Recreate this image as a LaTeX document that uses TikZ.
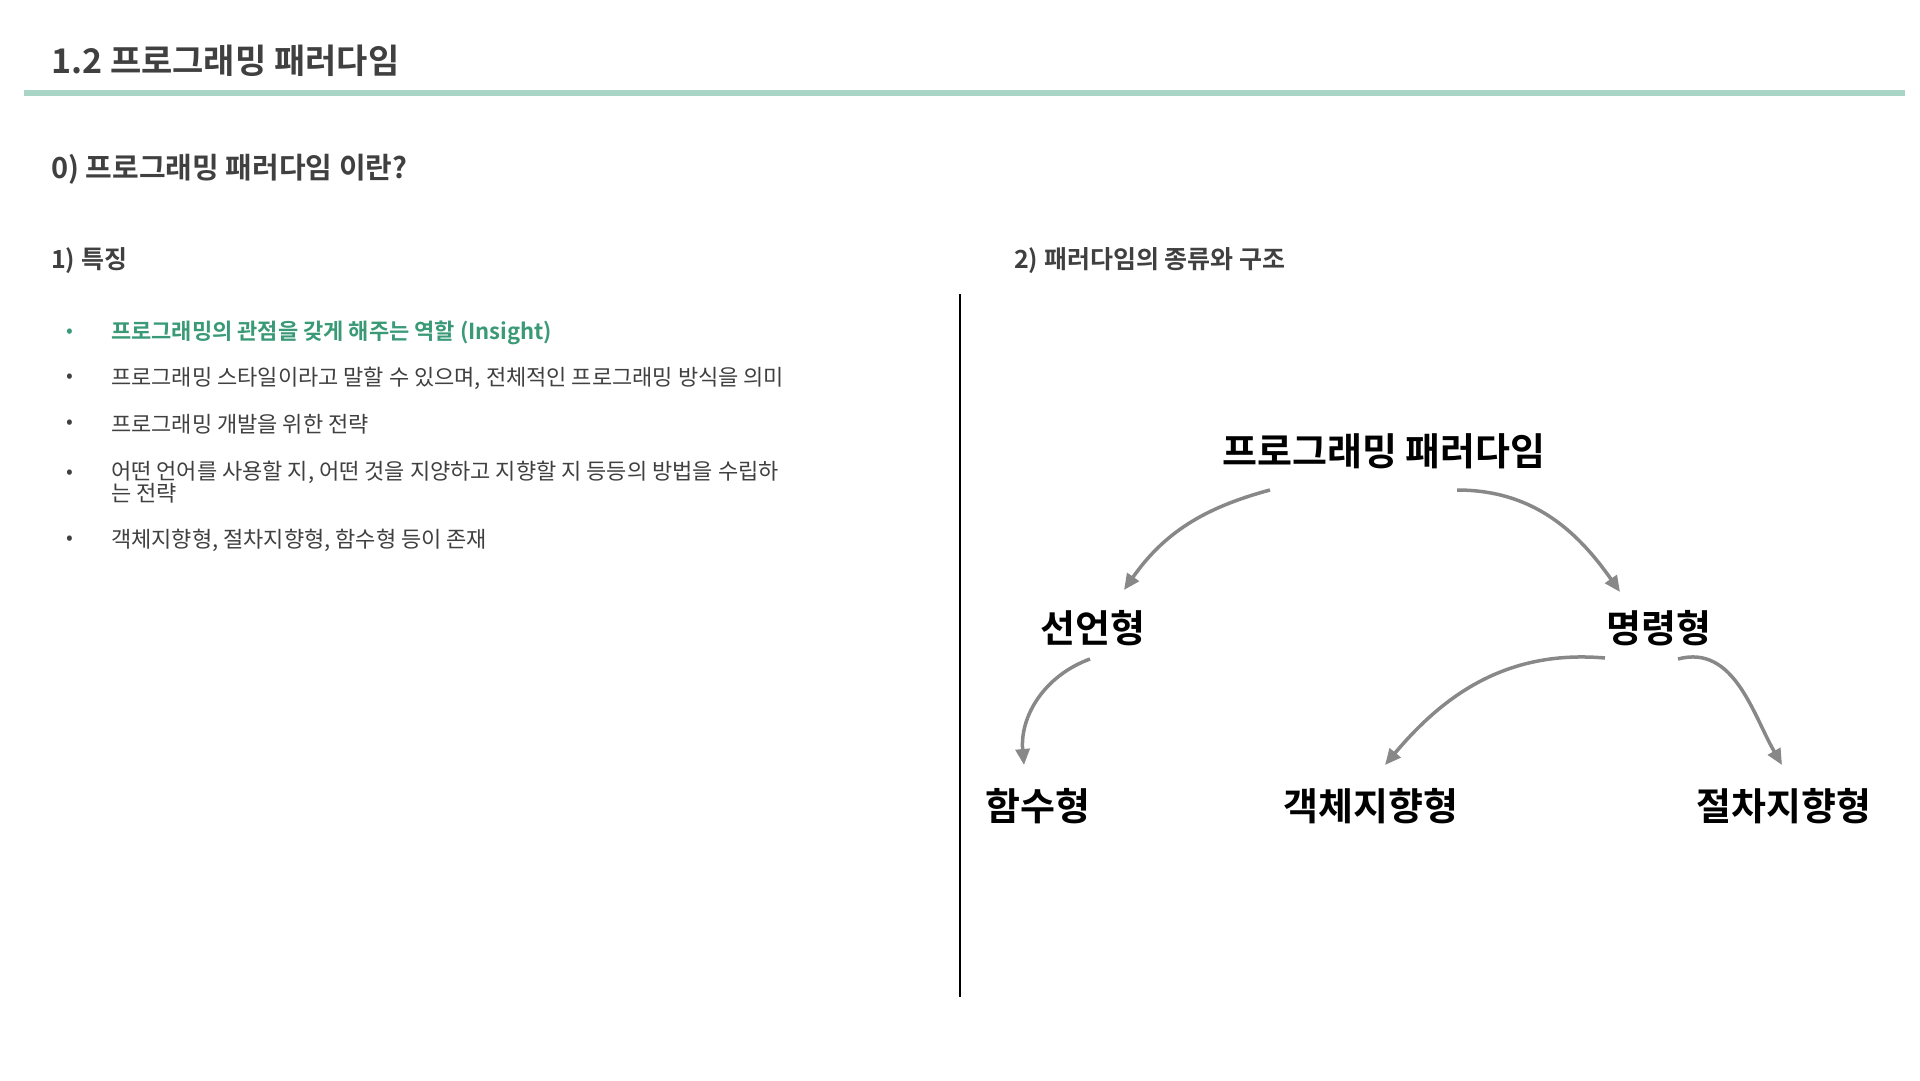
\documentclass[tikz,border=0pt]{standalone}
\usepackage{fontspec}
\setmainfont{Noto Sans CJK KR}
\newfontfamily\kr{Noto Sans CJK KR}
\newfontfamily\krb{Noto Sans CJK KR Bold}
\usetikzlibrary{arrows.meta}
\definecolor{txt}{HTML}{404040}
\definecolor{grn}{HTML}{3A9A78}
\definecolor{rule}{HTML}{A8D5C5}
\definecolor{arr}{HTML}{888888}
\begin{document}
\begin{tikzpicture}[x=1pt,y=-1pt,
  every node/.style={inner sep=0pt,text=txt},
  bul/.style={anchor=west,font=\kr\fontsize{22}{24}\selectfont,align=left},
  dg/.style={font=\krb\fontsize{38}{40}\selectfont,text=black},
  ar/.style={draw=arr,line width=3.5pt,-{Triangle[length=16pt,width=14pt]}}]
\useasboundingbox[fill=white] (0,0) rectangle (1920,1080);
\node[anchor=west,font=\krb\fontsize{34}{36}\selectfont] (title) at (51,61) {1.2 프로그래밍 패러다임};
\draw[rule,line width=6pt] (24,93) coordinate (r1) -- (1905,93) coordinate (r2);
\node[anchor=west,font=\krb\fontsize{29}{31}\selectfont] (h0) at (51,169) {0) 프로그래밍 패러다임 이란?};
\node[anchor=west,font=\krb\fontsize{25}{27}\selectfont] (h1) at (51,261) {1) 특징};
\node[anchor=west,font=\krb\fontsize{25}{27}\selectfont] (h2) at (1014,261) {2) 패러다임의 종류와 구조};
\draw[black,line width=1.2pt] (960,294) coordinate (v1) -- (960,997) coordinate (v2);
\foreach \y in {378,424,474,540} \node[text=txt,font=\fontsize{20}{20}\selectfont] at (70,\y) {•};
\node[text=grn,font=\fontsize{20}{20}\selectfont] (b0) at (70,333) {•};
\node[bul,text=grn,font=\krb\fontsize{22}{24}\selectfont] (t1) at (111,333) {프로그래밍의 관점을 갖게 해주는 역할 (Insight)};
\node[bul] (t2) at (111,378) {프로그래밍 스타일이라고 말할 수 있으며, 전체적인 프로그래밍 방식을 의미};
\node[bul] (t3) at (111,424) {프로그래밍 개발을 위한 전략};
\node[bul] (t4) at (111,482) {어떤 언어를 사용할 지, 어떤 것을 지양하고 지향할 지 등등의 방법을 수립하\\[-2pt]는 전략};
\node[bul] (t5) at (111,540) {객체지향형, 절차지향형, 함수형 등이 존재};
\node[dg] (p) at (1384,451) {프로그래밍 패러다임};
\node[dg] (s) at (1093,628) {선언형};
\node[dg] (m) at (1659,628) {명령형};
\node[dg] (f) at (1038,806) {함수형};
\node[dg] (o) at (1371,806) {객체지향형};
\node[dg] (c) at (1784,806) {절차지향형};
\coordinate (a1) at (1270,490); \coordinate (a2) at (1124,590);
\coordinate (b1) at (1457,490); \coordinate (b2) at (1620,592);
\coordinate (c1) at (1090,659); \coordinate (c2) at (1024,765);
\coordinate (d1) at (1605,658); \coordinate (d2) at (1385,765);
\coordinate (e1) at (1678,659); \coordinate (e2) at (1782,765);
\draw[ar] (a1) to[out=195,in=55] (a2);
\draw[ar] (b1) to[out=0,in=125] (b2);
\draw[ar] (c1) to[out=200,in=95] (c2);
\draw[ar] (d1) to[out=175,in=50] (d2);
\draw[ar] (e1) to[out=15,in=120] (e2);
\end{tikzpicture}
\end{document}
